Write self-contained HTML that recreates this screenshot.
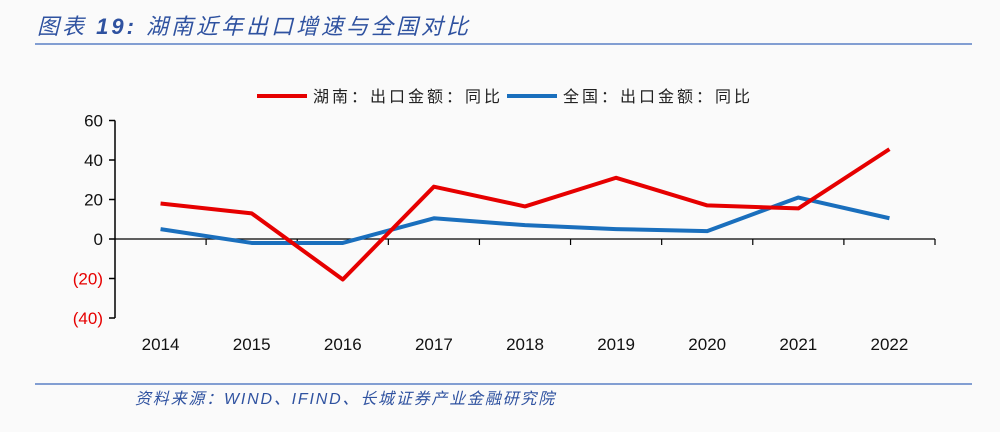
<!DOCTYPE html>
<html><head><meta charset="utf-8"><style>
body{margin:0;background:#fafafa;width:1000px;height:427px;overflow:hidden;font-family:"Liberation Sans","Noto Sans CJK SC",sans-serif;}
</style></head><body>
<svg width="1000" height="427" xmlns="http://www.w3.org/2000/svg">
<text x="37" y="34" font-size="22" font-style="italic" fill="#2f52a0" letter-spacing="3" font-family="Liberation Sans, Noto Sans CJK SC, sans-serif">图表 <tspan font-weight="bold">19:</tspan>  湖南近年出口增速与全国对比</text>
<line x1="35" y1="44" x2="972" y2="44" stroke="#5b7fc4" stroke-width="1.5"/>
<line x1="35" y1="384" x2="972" y2="384" stroke="#5b7fc4" stroke-width="1.5"/>
<text x="135" y="404" font-size="16" font-style="italic" fill="#2f52a0" letter-spacing="1.8" font-family="Liberation Sans, Noto Sans CJK SC, sans-serif">资料来源：WIND、IFIND、长城证券产业金融研究院</text>
<g>
<line x1="257" y1="96" x2="307" y2="96" stroke="#e60000" stroke-width="4"/>
<text x="313" y="102" font-size="16" fill="#222" letter-spacing="3">湖南：出口金额：同比</text>
<line x1="507" y1="96" x2="557" y2="96" stroke="#1a6fbd" stroke-width="4"/>
<text x="563" y="102" font-size="16" fill="#222" letter-spacing="3">全国：出口金额：同比</text>
</g>
<g id="plot"></g>
</svg>
<script>
const categories=["2014","2015","2016","2017","2018","2019","2020","2021","2022"];
const hunan=[18,13,-20.5,26.5,16.5,31,17,15.5,45.5];
const national=[5,-2,-2,10.5,7,5,4,21,10.5];
const yTicks=[60,40,20,0,-20,-40];
const yLabels=["60","40","20","0","(20)","(40)"];
const ns="http://www.w3.org/2000/svg";
const g=document.getElementById('plot');
const x0=115,x1=935,bw=(x1-x0)/categories.length;
const X=i=>x0+bw*(i+0.5);
const Y=v=>239-v*(39.5/20);
function el(t,a){const e=document.createElementNS(ns,t);for(const k in a)e.setAttribute(k,a[k]);g.appendChild(e);return e;}
let ax=el('line',{x1:x0,y1:Y(60),x2:x0,y2:Y(-40),stroke:'#000','stroke-width':1.5});


yTicks.forEach((v,i)=>{
 let t=el('line',{x1:x0-6,y1:Y(v),x2:x0,y2:Y(v),stroke:'#000','stroke-width':1.5});
 
 
 let l=el('text',{x:x0-12,y:Y(v)+6,'font-size':17,'text-anchor':'end',fill:v<0?'#e60000':'#111'});
 l.textContent=yLabels[i];
 
 
});
let xa=el('line',{x1:x0,y1:Y(0),x2:x1,y2:Y(0),stroke:'#000','stroke-width':1.2});


categories.forEach((c,i)=>{
 let t=el('line',{x1:x0+bw*(i+1),y1:Y(0),x2:x0+bw*(i+1),y2:Y(0)+6,stroke:'#000','stroke-width':1.2});
 
 
 let l=el('text',{x:X(i),y:350,'font-size':17,'text-anchor':'middle',fill:'#111'});
 l.textContent=c;
 
 
});
function line(d,col,name){
 let p=el('polyline',{points:d.map((v,i)=>X(i)+','+Y(v)).join(' '),fill:'none',stroke:col,'stroke-width':4,'stroke-linejoin':'round'});
 
 
}
line(national,'#1a6fbd','national-line');
line(hunan,'#e60000','hunan-line');
</script>
</body></html>
